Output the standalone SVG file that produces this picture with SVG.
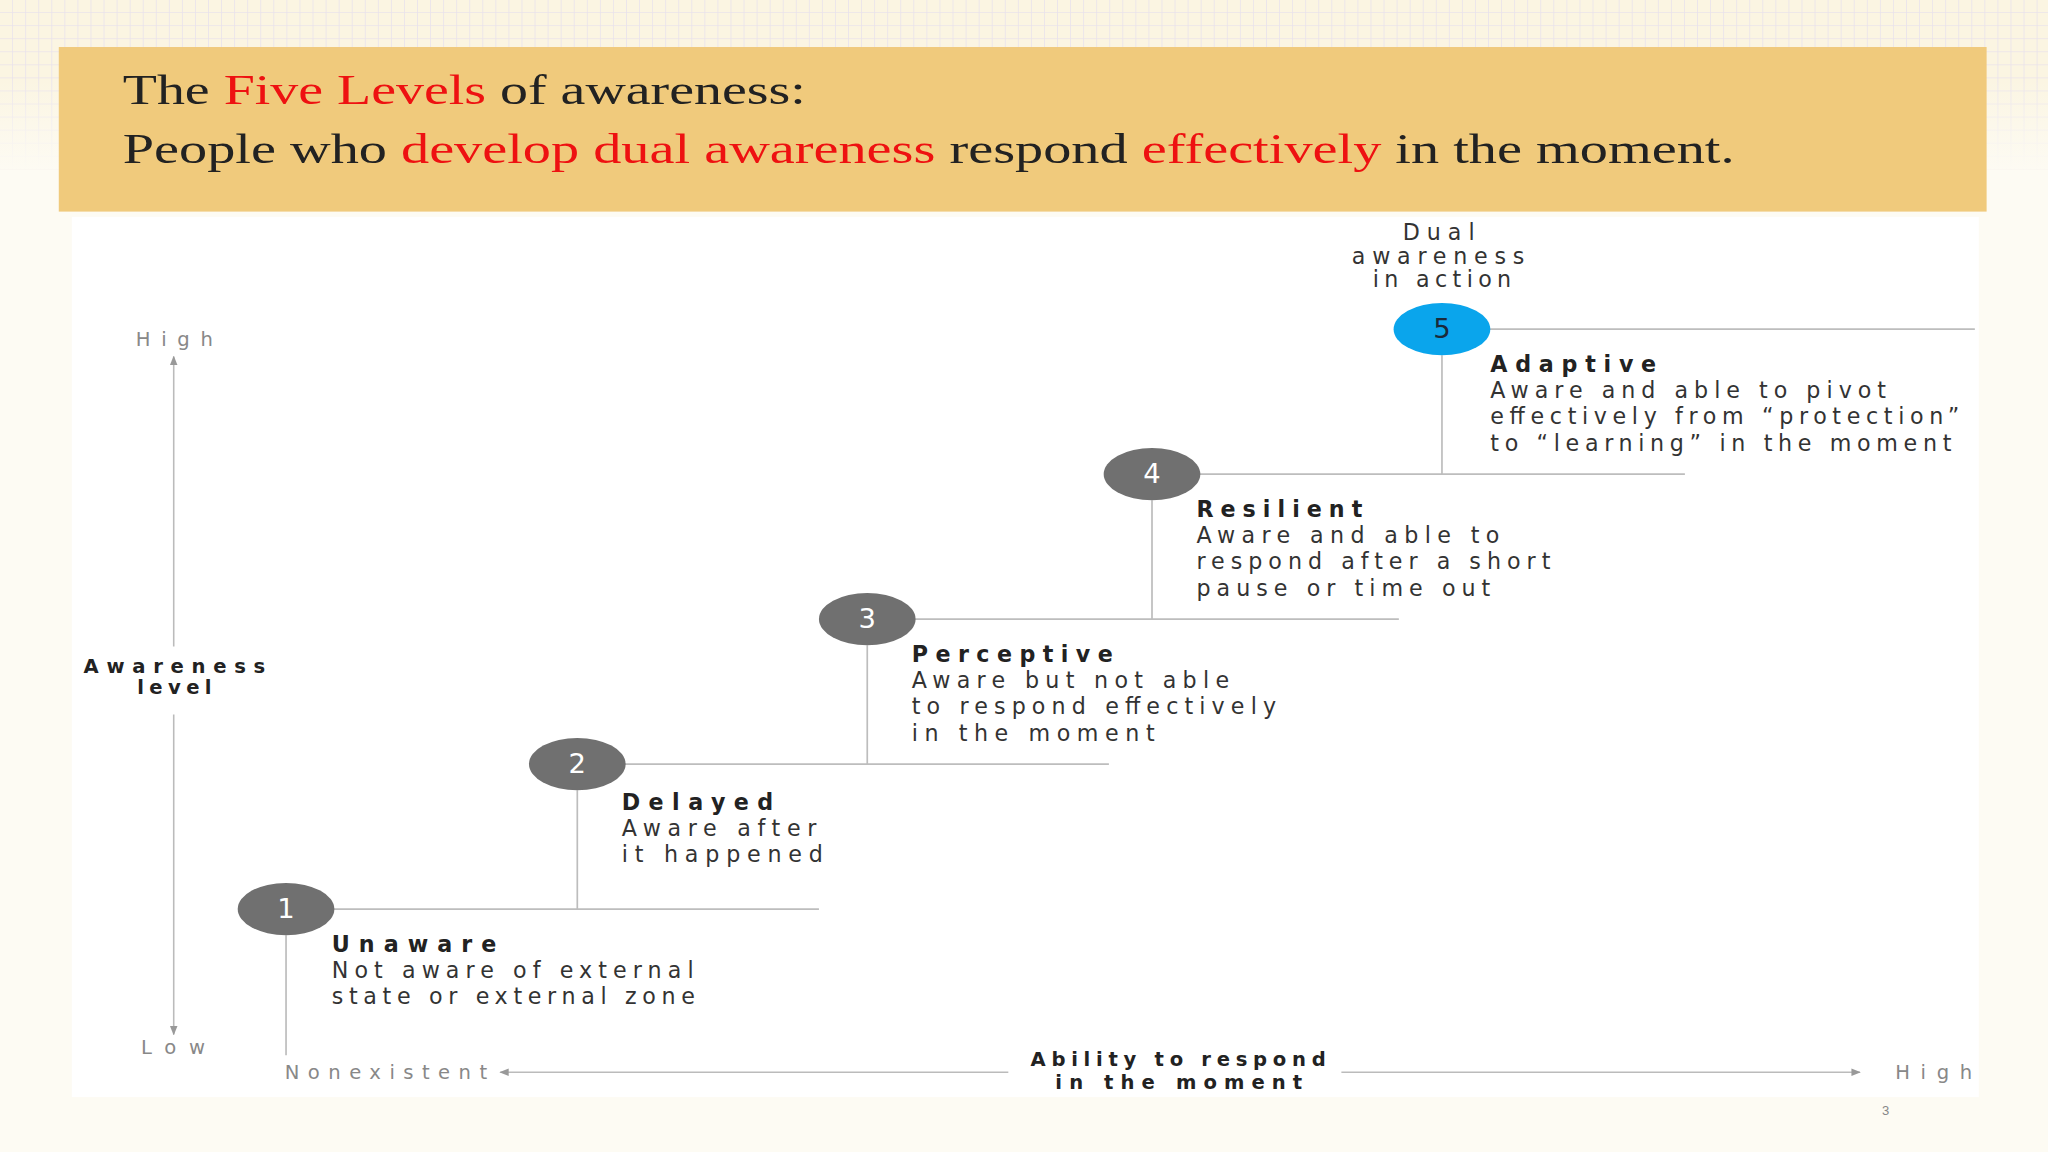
<svg xmlns="http://www.w3.org/2000/svg" width="2048" height="1152" viewBox="0 0 2048 1152">
<defs>
<pattern id="grid" width="10" height="10" patternUnits="userSpaceOnUse"><rect width="10" height="10" fill="#FBF5E2"/><path d="M10 0V10M0 10H10" stroke="#E9E2EC" stroke-width="1.2"/></pattern>
<linearGradient id="fade" x1="0" y1="0" x2="0" y2="1"><stop offset="0" stop-color="#FDFBF3" stop-opacity="0"/><stop offset="1" stop-color="#FDFBF3" stop-opacity="1"/></linearGradient>
<marker id="ah" viewBox="0 0 10 10" refX="9" refY="5" markerWidth="6" markerHeight="6" orient="auto"><path d="M0 1L10 5L0 9Z" fill="#999"/></marker>
<style>
.t{font-family:"Liberation Serif","DejaVu Serif",serif;font-size:33px;fill:#222}
.r{fill:#EE1111}
.h{font-family:"DejaVu Sans",sans-serif;font-size:17px;font-weight:bold;fill:#222}
.b{font-family:"DejaVu Sans",sans-serif;font-size:17px;fill:#333}
.a{font-family:"DejaVu Sans",sans-serif;font-size:15px;fill:#888}
.ab{font-family:"DejaVu Sans",sans-serif;font-size:15px;font-weight:bold;fill:#222}
.n{font-family:"DejaVu Sans",sans-serif;font-size:21px;fill:#fff;text-anchor:middle}
.ln{stroke:#BDBDBD;stroke-width:1.3;fill:none}
.ax{stroke:#BBB;stroke-width:1.2;fill:none}
</style>
</defs>
<g transform="scale(1.306122)">
<rect width="1568" height="882" fill="#FDFBF3"/>
<rect width="1568" height="130" fill="url(#grid)"/>
<rect y="60" width="1568" height="70" fill="url(#fade)"/>
<g id="banner">
<rect x="45" y="36" width="1476" height="126" fill="#F0CA7C"/>
<text class="t" x="94" y="80" textLength="523" lengthAdjust="spacingAndGlyphs">The <tspan class="r">Five Levels</tspan> of awareness:</text>
<text class="t" x="94" y="125" textLength="1234" lengthAdjust="spacingAndGlyphs">People who <tspan class="r">develop dual awareness</tspan> respond <tspan class="r">effectively</tspan> in the moment.</text>
</g>
<rect x="55" y="166" width="1460" height="674" fill="#FFFFFF"/>
<g id="connectors">
<path class="ln" d="M219 696H627M219 716V808M442 585H849M442 605V696M664 474H1071M664 494V585M882 363H1290M882 383V474M1104 252H1512M1104 272V363"/>
<path class="ax" d="M133 495V273" marker-end="url(#ah)"/>
<path class="ax" d="M133 547V792" marker-end="url(#ah)"/>
<path class="ax" d="M772 821H383" marker-end="url(#ah)"/>
<path class="ax" d="M1027 821H1424" marker-end="url(#ah)"/>
</g>
<g id="level1"><ellipse cx="219" cy="696" rx="37" ry="20" fill="#707070"/><text class="n" x="219" y="703">1</text>
<text class="h" x="254" y="729" textLength="126">Unaware</text><text class="b" x="254" y="749" textLength="277">Not aware of external</text><text class="b" x="254" y="769" textLength="278">state or external zone</text></g>
<g id="level2"><ellipse cx="442" cy="585" rx="37" ry="20" fill="#707070"/><text class="n" x="442" y="592">2</text>
<text class="h" x="476" y="620" textLength="116">Delayed</text><text class="b" x="476" y="640" textLength="149">Aware after</text><text class="b" x="476" y="660" textLength="154">it happened</text></g>
<g id="level3"><ellipse cx="664" cy="474" rx="37" ry="20" fill="#707070"/><text class="n" x="664" y="481">3</text>
<text class="h" x="698" y="507" textLength="154">Perceptive</text><text class="b" x="698" y="527" textLength="243">Aware but not able</text><text class="b" x="698" y="547" textLength="279">to respond effectively</text><text class="b" x="698" y="567" textLength="186">in the moment</text></g>
<g id="level4"><ellipse cx="882" cy="363" rx="37" ry="20" fill="#707070"/><text class="n" x="882" y="370">4</text>
<text class="h" x="916" y="396" textLength="127">Resilient</text><text class="b" x="916" y="416" textLength="232">Aware and able to</text><text class="b" x="916" y="436" textLength="271">respond after a short</text><text class="b" x="916" y="456" textLength="225">pause or time out</text></g>
<g id="level5"><ellipse cx="1104" cy="252" rx="37" ry="20" fill="#0AA5EC"/><text class="n" x="1104" y="259" fill="#1a1a1a" style="fill:#1a2a3a">5</text>
<text class="h" x="1141" y="285" textLength="127">Adaptive</text><text class="b" x="1141" y="305" textLength="303">Aware and able to pivot</text><text class="b" x="1141" y="325" textLength="359">effectively from “protection”</text><text class="b" x="1141" y="345" textLength="353">to “learning” in the moment</text></g>
<g id="dual"><text class="b" x="1074" y="184" textLength="55">Dual</text><text class="b" x="1035" y="202" textLength="132">awareness</text><text class="b" x="1051" y="220" textLength="106">in action</text></g>
<g id="axes">
<text class="a" x="104" y="265" textLength="59">High</text>
<text class="ab" x="64" y="515" textLength="139">Awareness</text><text class="ab" x="105" y="531" textLength="57">level</text>
<text class="a" x="108" y="807" textLength="49">Low</text>
<text class="a" x="218" y="826" textLength="155">Nonexistent</text>
<text class="ab" x="789" y="816" textLength="226">Ability to respond</text><text class="ab" x="808" y="834" textLength="189">in the moment</text>
<text class="a" x="1451" y="826" textLength="59">High</text>
<text x="1441" y="854" style="font-family:'Liberation Sans',sans-serif;font-size:10px;fill:#888">3</text>
</g>
</g>
</svg>
